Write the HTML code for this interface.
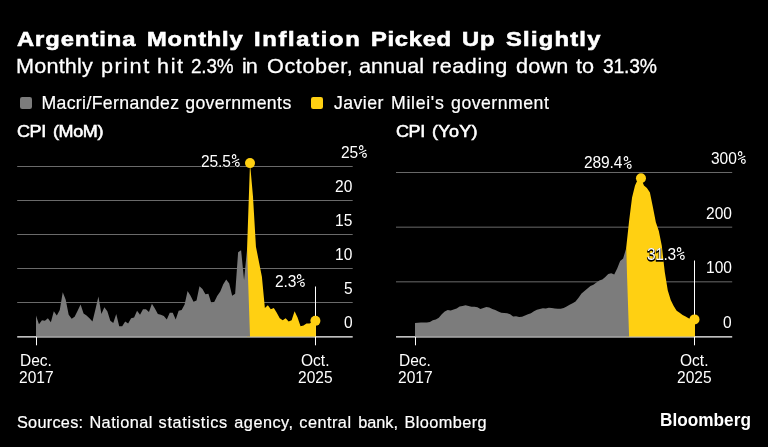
<!DOCTYPE html>
<html><head><meta charset="utf-8"><title>Argentina Monthly Inflation</title>
<style>
html,body{margin:0;padding:0;background:#000;}
body{width:768px;height:447px;overflow:hidden;position:relative;font-family:"Liberation Sans",sans-serif;color:#fff;}
.t{position:absolute;white-space:nowrap;line-height:1;transform-origin:0 0;}
#w{position:absolute;left:0;top:0;width:768px;height:447px;will-change:transform;}
.pc{display:inline-block;position:relative;width:8.3px;height:1px;vertical-align:baseline;}
.pc svg{position:absolute;left:0.9px;top:auto;bottom:-0.3px;}

.sw{position:absolute;width:12.4px;height:12.4px;border-radius:2.2px;top:96.5px;}
svg{position:absolute;left:0;top:0;}
</style></head><body><div id="w">
<svg width="768" height="447" viewBox="0 0 768 447">
<line x1="17.2" y1="302.50" x2="352.7" y2="302.50" stroke="#6a6a6a" stroke-width="1"/>
<line x1="17.2" y1="268.50" x2="352.7" y2="268.50" stroke="#6a6a6a" stroke-width="1"/>
<line x1="17.2" y1="234.50" x2="352.7" y2="234.50" stroke="#6a6a6a" stroke-width="1"/>
<line x1="17.2" y1="200.50" x2="352.7" y2="200.50" stroke="#6a6a6a" stroke-width="1"/>
<line x1="17.2" y1="166.50" x2="352.7" y2="166.50" stroke="#6a6a6a" stroke-width="1"/>
<line x1="17.2" y1="336.90" x2="352.7" y2="336.90" stroke="#fff" stroke-width="1.1"/>
<line x1="36.50" y1="336.50" x2="36.50" y2="345.30" stroke="#fff" stroke-width="1"/>
<line x1="315.50" y1="286.50" x2="315.50" y2="345.30" stroke="#fff" stroke-width="1"/>
<path d="M247.04,336.50 L247.04,249.46 L250.01,163.10 L252.98,196.42 L255.95,246.74 L258.93,261.70 L261.90,276.66 L264.87,307.94 L267.84,305.22 L270.81,309.30 L273.79,307.94 L276.76,312.70 L279.73,318.14 L282.70,320.18 L285.68,318.14 L288.65,321.54 L291.62,320.18 L294.59,311.34 L297.57,317.46 L300.54,326.30 L303.51,325.62 L306.48,323.58 L309.46,323.58 L312.43,322.22 L315.40,320.86 L315.90,320.86 L315.90,336.50 Z" fill="#ffd012"/>
<path d="M36.00,336.50 L36.00,315.42 L38.97,324.26 L41.94,320.18 L44.92,320.86 L47.89,318.14 L50.86,322.22 L53.83,311.34 L56.81,315.42 L59.78,309.98 L62.75,292.30 L65.72,299.78 L68.70,314.74 L71.67,318.82 L74.64,316.78 L77.61,310.66 L80.59,304.54 L83.56,313.38 L86.53,315.42 L89.50,318.14 L92.47,321.54 L95.45,309.30 L98.42,296.38 L101.39,314.06 L104.36,307.26 L107.34,311.34 L110.31,320.86 L113.28,322.90 L116.25,314.06 L119.23,326.30 L122.20,326.30 L125.17,321.54 L128.14,323.58 L131.11,318.14 L134.09,317.46 L137.06,310.66 L140.03,314.74 L143.00,309.30 L145.98,309.30 L148.95,312.02 L151.92,303.86 L154.89,308.62 L157.87,314.06 L160.84,314.74 L163.81,316.10 L166.78,319.50 L169.76,312.70 L172.73,312.70 L175.70,319.50 L178.67,310.66 L181.64,309.98 L184.62,304.54 L187.59,290.94 L190.56,295.70 L193.53,301.82 L196.51,300.46 L199.48,286.18 L202.45,288.90 L205.42,294.34 L208.40,293.66 L211.37,303.18 L214.34,301.82 L217.31,295.70 L220.29,291.62 L223.26,284.14 L226.23,279.38 L229.20,283.46 L232.17,295.70 L235.15,293.66 L238.12,252.18 L241.09,250.14 L244.06,280.06 L247.04,249.46 L250.01,336.50 Z" fill="#7c7c7c"/>
<circle cx="250.01" cy="163.10" r="5" fill="#ffd012"/>
<circle cx="315.40" cy="320.86" r="5" fill="#ffd012"/>
<line x1="396.0" y1="281.83" x2="732.2" y2="281.83" stroke="#6a6a6a" stroke-width="1"/>
<line x1="396.0" y1="227.16" x2="732.2" y2="227.16" stroke="#6a6a6a" stroke-width="1"/>
<line x1="396.0" y1="172.49" x2="732.2" y2="172.49" stroke="#6a6a6a" stroke-width="1"/>
<line x1="396.0" y1="336.90" x2="732.2" y2="336.90" stroke="#fff" stroke-width="1.1"/>
<line x1="415.50" y1="336.50" x2="415.50" y2="345.30" stroke="#fff" stroke-width="1"/>
<line x1="694.50" y1="260.50" x2="694.50" y2="345.30" stroke="#fff" stroke-width="1"/>
<path d="M626.11,336.50 L626.11,248.54 L629.09,220.93 L632.06,197.53 L635.03,185.50 L638.01,179.11 L640.98,178.29 L643.95,185.39 L646.93,188.07 L649.90,192.50 L652.87,207.10 L655.85,222.24 L658.82,230.99 L661.79,245.75 L664.77,272.10 L667.74,290.30 L670.71,299.93 L673.69,305.94 L676.66,310.64 L679.63,312.72 L682.61,314.96 L685.58,316.49 L688.55,318.13 L691.53,319.11 L694.50,319.39 L695.00,319.39 L695.00,336.50 Z" fill="#ffd012"/>
<path d="M415.00,336.50 L415.00,322.94 L417.97,322.83 L420.95,322.61 L423.92,322.61 L426.89,322.56 L429.87,322.12 L432.84,320.37 L435.81,319.44 L438.79,317.69 L441.76,314.36 L444.73,311.41 L447.71,309.99 L450.68,310.48 L453.65,309.55 L456.63,308.45 L459.60,306.60 L462.57,305.99 L465.55,305.17 L468.52,305.99 L471.49,306.76 L474.47,306.70 L477.44,307.25 L480.41,308.89 L483.39,308.02 L486.36,307.09 L489.34,307.58 L492.31,309.00 L495.28,310.04 L498.26,311.57 L501.23,312.77 L504.20,313.10 L507.18,313.32 L510.15,314.25 L513.12,316.49 L516.10,316.16 L519.07,316.93 L522.04,316.76 L525.02,315.45 L527.99,314.25 L530.96,313.21 L533.94,311.19 L536.91,309.82 L539.88,309.06 L542.86,308.18 L545.83,308.40 L548.80,307.80 L551.78,308.02 L554.75,308.51 L557.72,308.67 L560.70,308.78 L563.67,307.91 L566.64,306.38 L569.62,304.79 L572.59,303.32 L575.56,301.51 L578.54,297.68 L581.51,293.58 L584.48,291.12 L587.46,288.39 L590.43,285.98 L593.40,284.67 L596.38,282.49 L599.35,280.46 L602.32,279.48 L605.30,277.02 L608.27,274.07 L611.24,273.30 L614.22,274.50 L617.19,268.49 L620.16,260.89 L623.14,258.49 L626.11,248.54 L629.09,336.50 Z" fill="#7c7c7c"/>
<circle cx="640.98" cy="178.29" r="5" fill="#ffd012"/>
<circle cx="694.50" cy="319.39" r="5" fill="#ffd012"/>
</svg>
<div class="sw" style="left:19.8px;background:#7c7c7c"></div>
<div class="sw" style="left:311.0px;background:#ffd012"></div>
<div class="t" style="left:16.70px;top:28.30px;font-size:21px;font-weight:bold;letter-spacing:0.855px;transform:scaleX(1.13);-webkit-text-stroke:0.6px #fff;">Argentina</div>
<div class="t" style="left:146.73px;top:28.30px;font-size:21px;font-weight:bold;letter-spacing:0.702px;transform:scaleX(1.13);-webkit-text-stroke:0.6px #fff;">Monthly</div>
<div class="t" style="left:253.70px;top:28.30px;font-size:21px;font-weight:bold;letter-spacing:1.479px;transform:scaleX(1.13);-webkit-text-stroke:0.6px #fff;">Inflation</div>
<div class="t" style="left:370.68px;top:28.30px;font-size:21px;font-weight:bold;letter-spacing:0.623px;transform:scaleX(1.13);-webkit-text-stroke:0.6px #fff;">Picked</div>
<div class="t" style="left:461.53px;top:28.30px;font-size:21px;font-weight:bold;letter-spacing:0.663px;transform:scaleX(1.13);-webkit-text-stroke:0.6px #fff;">Up</div>
<div class="t" style="left:505.74px;top:28.30px;font-size:21px;font-weight:bold;letter-spacing:1.094px;transform:scaleX(1.13);-webkit-text-stroke:0.6px #fff;">Slightly</div>
<div class="t" style="left:15.66px;top:54.80px;font-size:21px;letter-spacing:0.182px;transform:scaleX(1.03);-webkit-text-stroke:0.3px #fff;">Monthly</div>
<div class="t" style="left:100.60px;top:54.80px;font-size:21px;letter-spacing:1.471px;transform:scaleX(1.03);-webkit-text-stroke:0.3px #fff;">print</div>
<div class="t" style="left:156.51px;top:54.80px;font-size:21px;letter-spacing:1.550px;transform:scaleX(1.03);-webkit-text-stroke:0.3px #fff;">hit</div>
<div class="t" style="left:190.55px;top:54.80px;font-size:21px;letter-spacing:-0.196px;transform:scaleX(0.9);-webkit-text-stroke:0.3px #fff;">2.3%</div>
<div class="t" style="left:241.55px;top:54.80px;font-size:21px;letter-spacing:-1.123px;transform:scaleX(1.03);-webkit-text-stroke:0.3px #fff;">in</div>
<div class="t" style="left:266.67px;top:54.80px;font-size:21px;letter-spacing:0.572px;transform:scaleX(1.03);-webkit-text-stroke:0.3px #fff;">October,</div>
<div class="t" style="left:358.50px;top:54.80px;font-size:21px;letter-spacing:0.016px;transform:scaleX(1.03);-webkit-text-stroke:0.3px #fff;">annual</div>
<div class="t" style="left:431.73px;top:54.80px;font-size:21px;letter-spacing:0.520px;transform:scaleX(1.03);-webkit-text-stroke:0.3px #fff;">reading</div>
<div class="t" style="left:515.71px;top:54.80px;font-size:21px;letter-spacing:0.203px;transform:scaleX(1.03);-webkit-text-stroke:0.3px #fff;">down</div>
<div class="t" style="left:575.68px;top:54.80px;font-size:21px;letter-spacing:0.084px;transform:scaleX(1.03);-webkit-text-stroke:0.3px #fff;">to</div>
<div class="t" style="left:602.72px;top:54.80px;font-size:21px;letter-spacing:-0.224px;transform:scaleX(0.92);-webkit-text-stroke:0.3px #fff;">31.3%</div>
<div class="t" style="left:41.39px;top:94.80px;font-size:17.7px;letter-spacing:0.358px;-webkit-text-stroke:0.2px #fff;">Macri/Fernandez</div>
<div class="t" style="left:185.16px;top:94.80px;font-size:17.7px;letter-spacing:0.382px;-webkit-text-stroke:0.2px #fff;">governments</div>
<div class="t" style="left:333.96px;top:94.80px;font-size:17.7px;letter-spacing:0.464px;-webkit-text-stroke:0.2px #fff;">Javier</div>
<div class="t" style="left:391.04px;top:94.80px;font-size:17.7px;letter-spacing:0.695px;-webkit-text-stroke:0.2px #fff;">Milei's</div>
<div class="t" style="left:451.10px;top:94.80px;font-size:17.7px;letter-spacing:0.481px;-webkit-text-stroke:0.2px #fff;">government</div>
<div class="t" style="left:16.66px;top:123.20px;font-size:17.3px;letter-spacing:-0.398px;transform:scaleX(1.04);-webkit-text-stroke:0.6px #fff;">CPI</div>
<div class="t" style="left:52.65px;top:123.20px;font-size:17.3px;letter-spacing:-0.372px;transform:scaleX(1.04);-webkit-text-stroke:0.6px #fff;">(MoM)</div>
<div class="t" style="left:395.66px;top:123.20px;font-size:17.3px;letter-spacing:-0.398px;transform:scaleX(1.04);-webkit-text-stroke:0.6px #fff;">CPI</div>
<div class="t" style="left:431.70px;top:123.20px;font-size:17.3px;letter-spacing:0.305px;transform:scaleX(1.04);-webkit-text-stroke:0.6px #fff;">(YoY)</div>
<div class="t" style="left:16.97px;top:414.20px;font-size:16.3px;letter-spacing:0.271px;-webkit-text-stroke:0.2px #fff;">Sources:</div>
<div class="t" style="left:89.40px;top:414.20px;font-size:16.3px;letter-spacing:0.463px;-webkit-text-stroke:0.2px #fff;">National</div>
<div class="t" style="left:158.57px;top:414.20px;font-size:16.3px;letter-spacing:0.694px;-webkit-text-stroke:0.2px #fff;">statistics</div>
<div class="t" style="left:234.35px;top:414.20px;font-size:16.3px;letter-spacing:0.463px;-webkit-text-stroke:0.2px #fff;">agency,</div>
<div class="t" style="left:299.36px;top:414.20px;font-size:16.3px;letter-spacing:0.463px;-webkit-text-stroke:0.2px #fff;">central</div>
<div class="t" style="left:358.32px;top:414.20px;font-size:16.3px;letter-spacing:-0.050px;-webkit-text-stroke:0.2px #fff;">bank,</div>
<div class="t" style="left:404.38px;top:414.20px;font-size:16.3px;letter-spacing:0.435px;-webkit-text-stroke:0.2px #fff;">Bloomberg</div>
<div class="t" style="left:659.55px;top:411.30px;font-size:18.7px;font-weight:bold;letter-spacing:0.019px;transform:scaleX(0.92);">Bloomberg</div>
<div class="t" style="left:340.65px;top:144.90px;font-size:15.7px;letter-spacing:-0.024px;transform:scaleX(0.99);">25<span class="pc"><svg width="8.1" height="13" viewBox="0 0 7.6 13" preserveAspectRatio="none" style="overflow:visible"><g fill="none" stroke="#fff" stroke-width="1.05" stroke-linecap="round"><ellipse cx="2.25" cy="2.7" rx="1.65" ry="2.1"/><ellipse cx="5.35" cy="10.3" rx="1.75" ry="2.05"/><path d="M6.7 5.3L0.7 8.4"/></g></svg></span></div>
<div class="t" style="left:334.59px;top:178.80px;font-size:15.7px;transform:scaleX(0.99);">20</div>
<div class="t" style="left:334.92px;top:212.80px;font-size:15.7px;transform:scaleX(0.99);">15</div>
<div class="t" style="left:334.59px;top:246.80px;font-size:15.7px;transform:scaleX(0.99);">10</div>
<div class="t" style="left:343.60px;top:280.80px;font-size:15.7px;transform:scaleX(0.99);">5</div>
<div class="t" style="left:343.62px;top:314.80px;font-size:15.7px;transform:scaleX(0.99);">0</div>
<div class="t" style="left:710.50px;top:150.50px;font-size:15.7px;letter-spacing:-0.055px;transform:scaleX(0.99);">300<span class="pc"><svg width="8.1" height="13" viewBox="0 0 7.6 13" preserveAspectRatio="none" style="overflow:visible"><g fill="none" stroke="#fff" stroke-width="1.05" stroke-linecap="round"><ellipse cx="2.25" cy="2.7" rx="1.65" ry="2.1"/><ellipse cx="5.35" cy="10.3" rx="1.75" ry="2.05"/><path d="M6.7 5.3L0.7 8.4"/></g></svg></span></div>
<div class="t" style="left:705.65px;top:205.80px;font-size:15.7px;transform:scaleX(0.99);">200</div>
<div class="t" style="left:705.65px;top:260.40px;font-size:15.7px;transform:scaleX(0.99);">100</div>
<div class="t" style="left:722.57px;top:315.00px;font-size:15.7px;transform:scaleX(0.99);">0</div>
<div class="t" style="left:200.60px;top:153.50px;font-size:15.7px;letter-spacing:-0.134px;transform:scaleX(0.99);color:#000;-webkit-text-stroke:1.3px #000;margin:0.5px 0 0 0.3px;">25.5<span class="pc"><svg width="8.1" height="13" viewBox="0 0 7.6 13" preserveAspectRatio="none" style="overflow:visible"><g fill="none" stroke="#000" stroke-width="2.3" stroke-linecap="round"><ellipse cx="2.25" cy="2.7" rx="1.65" ry="2.1"/><ellipse cx="5.35" cy="10.3" rx="1.75" ry="2.05"/><path d="M6.7 5.3L0.7 8.4"/></g></svg></span></div><div class="t" style="left:200.60px;top:153.50px;font-size:15.7px;letter-spacing:-0.134px;transform:scaleX(0.99);">25.5<span class="pc"><svg width="8.1" height="13" viewBox="0 0 7.6 13" preserveAspectRatio="none" style="overflow:visible"><g fill="none" stroke="#fff" stroke-width="1.05" stroke-linecap="round"><ellipse cx="2.25" cy="2.7" rx="1.65" ry="2.1"/><ellipse cx="5.35" cy="10.3" rx="1.75" ry="2.05"/><path d="M6.7 5.3L0.7 8.4"/></g></svg></span></div>
<div class="t" style="left:274.50px;top:273.80px;font-size:15.7px;letter-spacing:-0.135px;transform:scaleX(0.99);color:#000;-webkit-text-stroke:1.3px #000;margin:0.5px 0 0 0.3px;">2.3<span class="pc"><svg width="8.1" height="13" viewBox="0 0 7.6 13" preserveAspectRatio="none" style="overflow:visible"><g fill="none" stroke="#000" stroke-width="2.3" stroke-linecap="round"><ellipse cx="2.25" cy="2.7" rx="1.65" ry="2.1"/><ellipse cx="5.35" cy="10.3" rx="1.75" ry="2.05"/><path d="M6.7 5.3L0.7 8.4"/></g></svg></span></div><div class="t" style="left:274.50px;top:273.80px;font-size:15.7px;letter-spacing:-0.135px;transform:scaleX(0.99);">2.3<span class="pc"><svg width="8.1" height="13" viewBox="0 0 7.6 13" preserveAspectRatio="none" style="overflow:visible"><g fill="none" stroke="#fff" stroke-width="1.05" stroke-linecap="round"><ellipse cx="2.25" cy="2.7" rx="1.65" ry="2.1"/><ellipse cx="5.35" cy="10.3" rx="1.75" ry="2.05"/><path d="M6.7 5.3L0.7 8.4"/></g></svg></span></div>
<div class="t" style="left:583.65px;top:155.40px;font-size:15.7px;letter-spacing:-0.116px;transform:scaleX(0.99);color:#000;-webkit-text-stroke:1.3px #000;margin:0.5px 0 0 0.3px;">289.4<span class="pc"><svg width="8.1" height="13" viewBox="0 0 7.6 13" preserveAspectRatio="none" style="overflow:visible"><g fill="none" stroke="#000" stroke-width="2.3" stroke-linecap="round"><ellipse cx="2.25" cy="2.7" rx="1.65" ry="2.1"/><ellipse cx="5.35" cy="10.3" rx="1.75" ry="2.05"/><path d="M6.7 5.3L0.7 8.4"/></g></svg></span></div><div class="t" style="left:583.65px;top:155.40px;font-size:15.7px;letter-spacing:-0.116px;transform:scaleX(0.99);">289.4<span class="pc"><svg width="8.1" height="13" viewBox="0 0 7.6 13" preserveAspectRatio="none" style="overflow:visible"><g fill="none" stroke="#fff" stroke-width="1.05" stroke-linecap="round"><ellipse cx="2.25" cy="2.7" rx="1.65" ry="2.1"/><ellipse cx="5.35" cy="10.3" rx="1.75" ry="2.05"/><path d="M6.7 5.3L0.7 8.4"/></g></svg></span></div>
<div class="t" style="left:646.70px;top:247.10px;font-size:15.7px;letter-spacing:-0.339px;transform:scaleX(0.99);color:#000;-webkit-text-stroke:1.3px #000;margin:0.5px 0 0 0.3px;">31.3<span class="pc"><svg width="8.1" height="13" viewBox="0 0 7.6 13" preserveAspectRatio="none" style="overflow:visible"><g fill="none" stroke="#000" stroke-width="2.3" stroke-linecap="round"><ellipse cx="2.25" cy="2.7" rx="1.65" ry="2.1"/><ellipse cx="5.35" cy="10.3" rx="1.75" ry="2.05"/><path d="M6.7 5.3L0.7 8.4"/></g></svg></span></div><div class="t" style="left:646.70px;top:247.10px;font-size:15.7px;letter-spacing:-0.339px;transform:scaleX(0.99);">31.3<span class="pc"><svg width="8.1" height="13" viewBox="0 0 7.6 13" preserveAspectRatio="none" style="overflow:visible"><g fill="none" stroke="#fff" stroke-width="1.05" stroke-linecap="round"><ellipse cx="2.25" cy="2.7" rx="1.65" ry="2.1"/><ellipse cx="5.35" cy="10.3" rx="1.75" ry="2.05"/><path d="M6.7 5.3L0.7 8.4"/></g></svg></span></div>
<div class="t" style="left:19.55px;top:352.80px;font-size:15.7px;transform:scaleX(0.99);">Dec.</div>
<div class="t" style="left:18.60px;top:370.30px;font-size:15.7px;transform:scaleX(0.99);">2017</div>
<div class="t" style="left:300.70px;top:352.80px;font-size:15.7px;transform:scaleX(0.99);">Oct.</div>
<div class="t" style="left:297.65px;top:370.30px;font-size:15.7px;transform:scaleX(0.99);">2025</div>
<div class="t" style="left:398.55px;top:352.80px;font-size:15.7px;transform:scaleX(0.99);">Dec.</div>
<div class="t" style="left:397.60px;top:370.30px;font-size:15.7px;transform:scaleX(0.99);">2017</div>
<div class="t" style="left:679.55px;top:352.80px;font-size:15.7px;transform:scaleX(0.99);">Oct.</div>
<div class="t" style="left:676.50px;top:370.30px;font-size:15.7px;transform:scaleX(0.99);">2025</div>
</div></body></html>
